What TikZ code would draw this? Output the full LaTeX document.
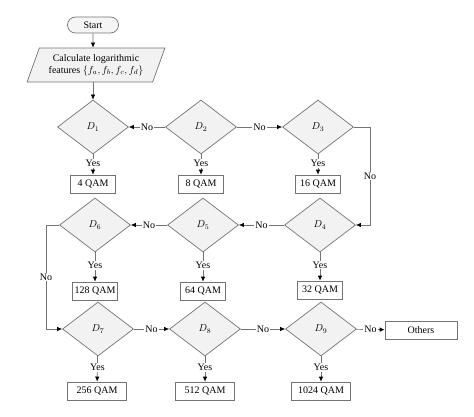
\documentclass[tikz,border=0pt]{standalone}
\usepackage{fontspec}
\setmainfont{Liberation Serif}
\usetikzlibrary{shapes.geometric,shapes.misc,arrows.meta,positioning}

\tikzset{
  line/.style={draw=gray!90!black, line width=0.7pt},
  arr/.style={line, -{Latex[length=5pt,width=4.5pt,color=black]}},
  base/.style={draw=gray!90!black, line width=0.7pt, font=\fontsize{10}{12}\selectfont},
  startstop/.style={base, rounded rectangle, fill=gray!8, minimum width=53pt, minimum height=16pt, inner sep=1pt},
  inout/.style={base, trapezium, trapezium left angle=66, trapezium right angle=114,
    trapezium stretches=true, fill=gray!10, minimum width=138pt, minimum height=34pt,
    inner sep=1pt, align=center},
  decision/.style={base, diamond, fill=gray!10, minimum width=71pt, minimum height=54pt, inner sep=0pt},
  qam/.style={base, rectangle, minimum width=45pt, minimum height=18pt, inner sep=1pt},
  lbl/.style={fill=white, inner sep=1pt, font=\fontsize{10}{12}\selectfont},
}

\begin{document}
\begin{tikzpicture}[x=1pt,y=-1pt]
  \useasboundingbox (0,0) rectangle (474,417);

  % start and features
  \node[startstop] (start) at (93,25) {Start};
  \node[inout] (calc) at (96,65) {Calculate logarithmic\\features $\{f_a, f_b, f_c, f_d\}$};

  % first row
  \node[decision] (d1) at (93,127) {$D_1$};
  \node[decision] (d2) at (201,127) {$D_2$};
  \node[decision] (d3) at (318,127) {$D_3$};
  \node[qam] (q4) at (93,184) {4 QAM};
  \node[qam] (q8) at (201,184) {8 QAM};
  \node[qam] (q16) at (318,184) {16 QAM};

  % second row
  \node[decision] (d6) at (95,225) {$D_6$};
  \node[decision] (d5) at (203,225) {$D_5$};
  \node[decision] (d4) at (320,225) {$D_4$};
  \node[qam] (q128) at (95,291) {128 QAM};
  \node[qam] (q64) at (203,291) {64 QAM};
  \node[qam] (q32) at (320,290) {32 QAM};

  % third row
  \node[decision] (d7) at (98,329) {$D_7$};
  \node[decision] (d8) at (205,329) {$D_8$};
  \node[decision] (d9) at (321,329) {$D_9$};
  \node[qam, minimum width=59pt] (q256) at (97,391) {256 QAM};
  \node[qam, minimum width=59pt] (q512) at (205,391) {512 QAM};
  \node[qam, minimum width=59pt] (q1024) at (321,391) {1024 QAM};
  \node[qam, minimum width=72pt] (others) at (421,330) {Others};

  % turning points
  \coordinate (r1) at (370,127);
  \coordinate (r2) at (370,225);
  \coordinate (l1) at (46,225);
  \coordinate (l2) at (46,329);

  \draw[arr] (start) -- (calc.north -| start);
  \draw[arr] (calc.south -| d1) -- (d1);

  \draw[arr] (d2) -- node[lbl] {No} (d1);
  \draw[arr] (d2) -- node[lbl] {No} (d3);
  \draw[arr] (d3.east) -- (r1) -- node[lbl] {No} (r2) -- (d4.east);
  \draw[arr] (d4) -- node[lbl] {No} (d5);
  \draw[arr] (d5) -- node[lbl] {No} (d6);
  \draw[arr] (d6.west) -- (l1) -- node[lbl] {No} (l2) -- (d7.west);
  \draw[arr] (d7) -- node[lbl] {No} (d8);
  \draw[arr] (d8) -- node[lbl] {No} (d9);
  \draw[arr] (d9) -- node[lbl] {No} (others);

  \foreach \d/\q in {d1/q4, d2/q8, d3/q16, d6/q128, d5/q64, d4/q32, d7/q256, d8/q512, d9/q1024}
    \draw[arr] (\d) -- node[lbl, pos=0.45] {Yes} (\q);
\end{tikzpicture}
\end{document}
